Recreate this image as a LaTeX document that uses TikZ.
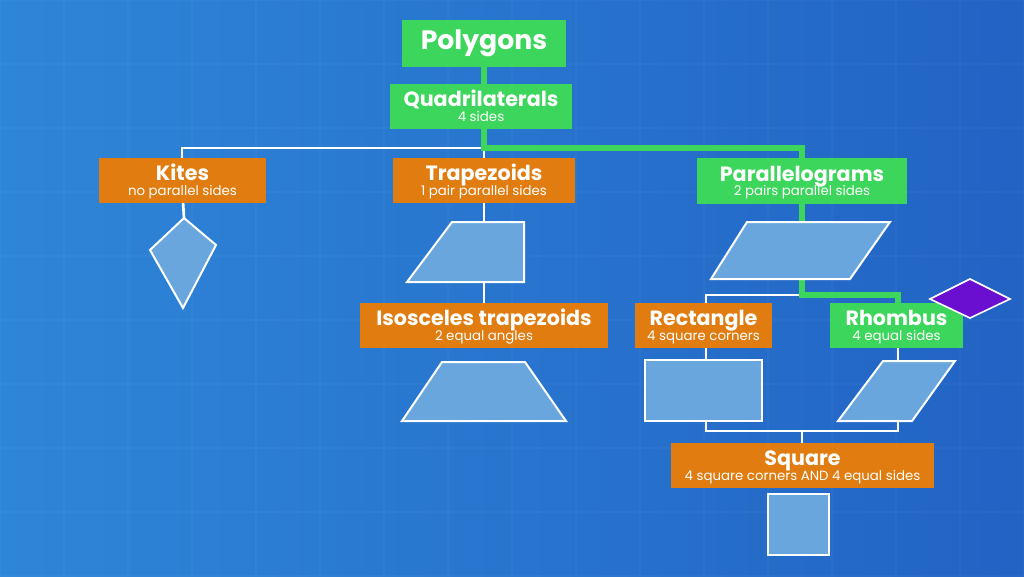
\documentclass[tikz,border=0pt]{standalone}
\usepackage{fontspec}
\setmainfont{Poppins}
\definecolor{bgA}{HTML}{2E86D8}
\definecolor{bgB}{HTML}{2263C4}
\definecolor{gbox}{HTML}{3DD65C}
\definecolor{obox}{HTML}{E07C10}
\definecolor{shp}{HTML}{6AA6DE}
\definecolor{purp}{HTML}{6A0FD0}
\tikzset{
 box/.style={draw=none,inner sep=0pt,align=center,text=white,font=\bfseries},
 gb/.style={box,fill=gbox},
 ob/.style={box,fill=obox},
 wl/.style={draw=white,line width=2pt},
 gl/.style={draw=gbox,line width=4pt},
 sh/.style={draw=white,line width=1.5pt,fill=shp,line join=miter}
}
\newcommand{\bx}[2]{\raisebox{0pt}[13pt][2pt]{\fontsize{15.5}{16}\selectfont #1}\\[-1pt]\raisebox{0pt}[9pt][2pt]{\mdseries\fontsize{10}{11}\selectfont #2}}
\begin{document}
\begin{tikzpicture}[x=0.75pt,y=-0.75pt]
\useasboundingbox (0,0) rectangle (1024,576);
\shade[left color=bgA,right color=bgB] (0,0) rectangle (1024,576);
\foreach \i in {0,64,...,1024} \draw[white,opacity=0.03,line width=0.8pt] (\i,0)--(\i,576);
\foreach \j in {0,64,...,576} \draw[white,opacity=0.03,line width=0.8pt] (0,\j)--(1024,\j);
% connectors
\coordinate (j1) at (182,148); \coordinate (j2) at (484,148); \coordinate (j3) at (802,148);
\coordinate (kt) at (184,218); \coordinate (tt) at (484,222); \coordinate (tb) at (484,282);
\coordinate (pt) at (802,222); \coordinate (pb) at (802,279);
\coordinate (p1) at (802,295); \coordinate (p2) at (706,295); \coordinate (p3) at (898,295);
\coordinate (rt) at (706,360); \coordinate (rb) at (706,421); \coordinate (mt) at (898,361); \coordinate (mb) at (898,421);
\coordinate (s1) at (706,431); \coordinate (s2) at (898,431); \coordinate (s3) at (802,431);
\draw[wl] (182,185) -- (j1) -- (j2) -- (484,185);
\draw[wl] (484,185) -- (tt);
\draw[wl] (tb) -- (484,320);
\draw[wl] (p1) -- (p2) -- (706,320);
\draw[wl] (706,330) -- (rt);
\draw[wl] (898,330) -- (mt);
\draw[wl] (rb) -- (s1) -- (s2) -- (mb);
\draw[wl] (s3) -- (802,460);
\draw[wl] (182,185) -- (kt);
\draw[gl] (484,43) -- (484,110) -- (j2) -- (j3) -- (802,185);
\draw[gl] (802,185) -- (pt);
\draw[gl] (pb) -- (p1) -- (p3) -- (898,320);
% shapes
\draw[sh] (kt) -- (216,245) -- (183,308) -- (150,250) -- cycle;
\draw[sh] (407,282) -- (452,222) -- (524,222) -- (524,282) -- cycle;
\draw[sh] (747,222) -- (890,222) -- (850,279) -- (711,279) -- cycle;
\draw[sh] (402,421) -- (566,421) -- (525,362) -- (442,362) -- cycle;
\draw[sh] (645,360) rectangle (762,421);
\draw[sh] (838,421) -- (912,421) -- (955,361) -- (883,361) -- cycle;
\draw[sh] (768,494) rectangle (829,555);
% boxes
\node[gb,minimum width=123pt,minimum height=35pt] (poly) at (484,43.5) {\fontsize{20}{21}\selectfont Polygons};
\node[gb,minimum width=136.5pt,minimum height=34pt] (quad) at (481,106.5) {\bx{Quadrilaterals}{4 sides}};
\node[ob,minimum width=125pt,minimum height=34pt] (kite) at (182.5,180.5) {\bx{Kites}{no parallel sides}};
\node[ob,minimum width=136.5pt,minimum height=34pt] (trap) at (484,180.5) {\bx{Trapezoids}{1 pair parallel sides}};
\node[gb,minimum width=157.5pt,minimum height=34.5pt] (para) at (802,181) {\bx{Parallelograms}{2 pairs parallel sides}};
\node[ob,minimum width=186pt,minimum height=34pt] (iso) at (484,325.5) {\bx{Isosceles trapezoids}{2 equal angles}};
\node[ob,minimum width=103pt,minimum height=34pt] (rect) at (703.5,325.5) {\bx{Rectangle}{4 square corners}};
\node[gb,minimum width=100pt,minimum height=34pt] (rhom) at (896.5,325.5) {\bx{Rhombus}{4 equal sides}};
\node[ob,minimum width=197pt,minimum height=34pt] (sq) at (802.5,465.5) {\bx{Square}{4 square corners AND 4 equal sides}};
\fill[purp,draw=white,line width=1.2pt] (930,299) -- (970,279) -- (1010,299) -- (970,318) -- cycle;
\end{tikzpicture}
\end{document}
